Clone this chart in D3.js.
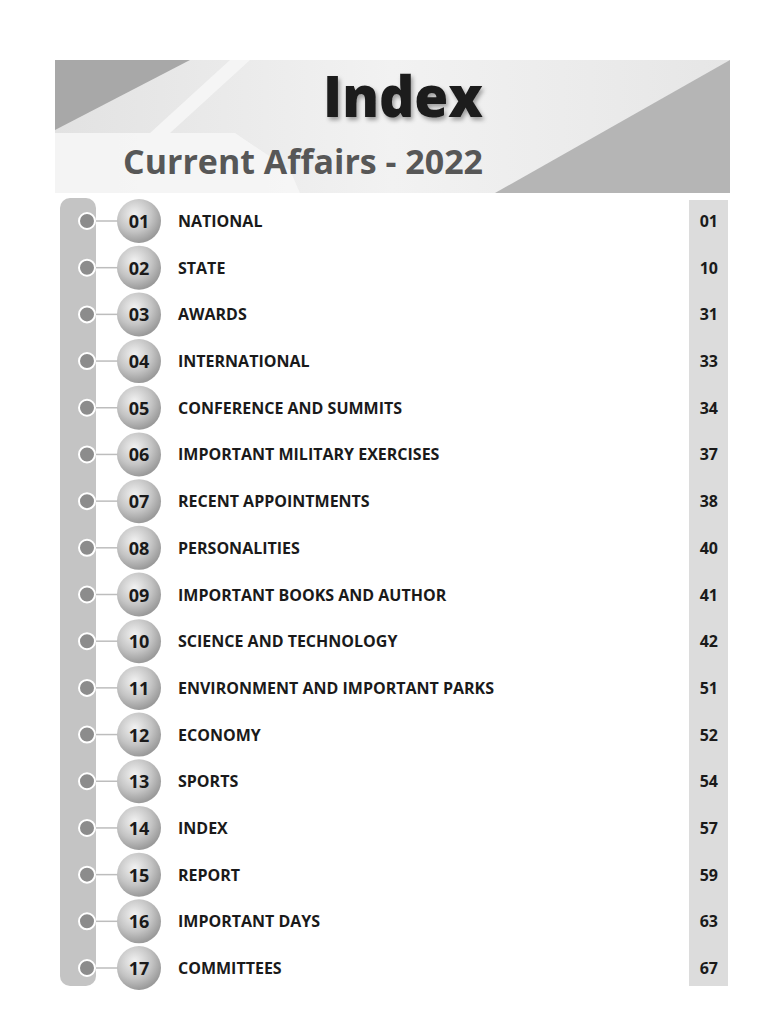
<!DOCTYPE html>
<html><head><meta charset="utf-8">
<script src="https://cdn.jsdelivr.net/npm/d3@7"></script>
<style>body{margin:0;background:#fff}</style></head>
<body><svg id="c" width="768" height="1024"></svg>
<script>
const numbers = ["01","02","03","04","05","06","07","08","09","10","11","12","13","14","15","16","17"];
const topics = ["NATIONAL","STATE","AWARDS","INTERNATIONAL","CONFERENCE AND SUMMITS","IMPORTANT MILITARY EXERCISES","RECENT APPOINTMENTS","PERSONALITIES","IMPORTANT BOOKS AND AUTHOR","SCIENCE AND TECHNOLOGY","ENVIRONMENT AND IMPORTANT PARKS","ECONOMY","SPORTS","INDEX","REPORT","IMPORTANT DAYS","COMMITTEES"];
const pages = ["01","10","31","33","34","37","38","40","41","42","51","52","54","57","59","63","67"];
const title = "Index", subtitle = "Current Affairs - 2022";

const svg = d3.select("#c");
const defs = svg.append("defs");
const bg = defs.append("linearGradient").attr("id","bg").attr("x1",0).attr("x2",1);
bg.append("stop").attr("offset",0).attr("stop-color","#e2e2e2");
bg.append("stop").attr("offset",0.5).attr("stop-color","#f2f2f2");
bg.append("stop").attr("offset",1).attr("stop-color","#e6e6e6");
const ball = defs.append("radialGradient").attr("id","ball").attr("cx","40%").attr("cy","35%").attr("r","65%");
ball.append("stop").attr("offset",0).attr("stop-color","#f2f2f2");
ball.append("stop").attr("offset",0.6).attr("stop-color","#c4c4c4");
ball.append("stop").attr("offset",1).attr("stop-color","#9a9a9a");
const f = defs.append("filter").attr("id","sh");
f.append("feDropShadow").attr("dx",2).attr("dy",3).attr("stdDeviation",2).attr("flood-opacity",0.35);

// header
svg.append("rect").attr("x",55).attr("y",60).attr("width",675).attr("height",133).attr("fill","url(#bg)");
svg.append("polygon").attr("points","55,60 190,60 55,130").attr("fill","#a8a8a8");
svg.append("polygon").attr("points","55,133 150,133 230,60 250,60 170,133 235,133 290,170 300,193 55,193").attr("fill","#f7f7f7").attr("opacity",0.85);
svg.append("polygon").attr("points","730,60 730,193 495,193").attr("fill","#b5b5b5");
svg.append("text").attr("x",403).attr("y",117).attr("text-anchor","middle")
  .attr("font-family","Open Sans").attr("font-weight",800).attr("font-size",56)
  .attr("textLength",160).attr("lengthAdjust","spacingAndGlyphs")
  .attr("fill","#1a1a1a").attr("filter","url(#sh)").text(title);
svg.append("text").attr("x",123).attr("y",174)
  .attr("font-family","Open Sans").attr("font-weight",700).attr("font-size",34)
  .attr("textLength",360).attr("lengthAdjust","spacingAndGlyphs")
  .attr("fill","#575757").text(subtitle);

// columns
svg.append("rect").attr("x",60).attr("y",198).attr("width",36).attr("height",788).attr("rx",10).attr("fill","#c4c4c4");
svg.append("rect").attr("x",689).attr("y",200).attr("width",39).attr("height",786).attr("fill","#dcdcdc");

const y = d3.scalePoint().domain(numbers).range([221,968]);
const rows = svg.selectAll("g.r").data(numbers).join("g").attr("transform",d=>`translate(0,${y(d)})`);
rows.append("line").attr("x1",87).attr("x2",118).attr("stroke","#bdbdbd").attr("stroke-width",1.5);
rows.append("circle").attr("cx",87).attr("r",8).attr("fill","#8c8c8c").attr("stroke","#fff").attr("stroke-width",2);
rows.append("circle").attr("cx",139).attr("r",22).attr("fill","url(#ball)");
rows.append("text").attr("x",139).attr("y",7).attr("text-anchor","middle")
  .attr("font-family","Open Sans").attr("font-weight",700).attr("font-size",18).attr("fill","#1a1a1a").text(d=>d);
rows.append("text").attr("x",178).attr("y",6)
  .attr("font-family","Open Sans").attr("font-weight",700).attr("font-size",16).attr("fill","#1a1a1a").text((d,i)=>topics[i]);
rows.append("text").attr("x",718).attr("y",6).attr("text-anchor","end")
  .attr("font-family","Open Sans").attr("font-weight",700).attr("font-size",16).attr("fill","#1a1a1a").text((d,i)=>pages[i]);
</script></body></html>
